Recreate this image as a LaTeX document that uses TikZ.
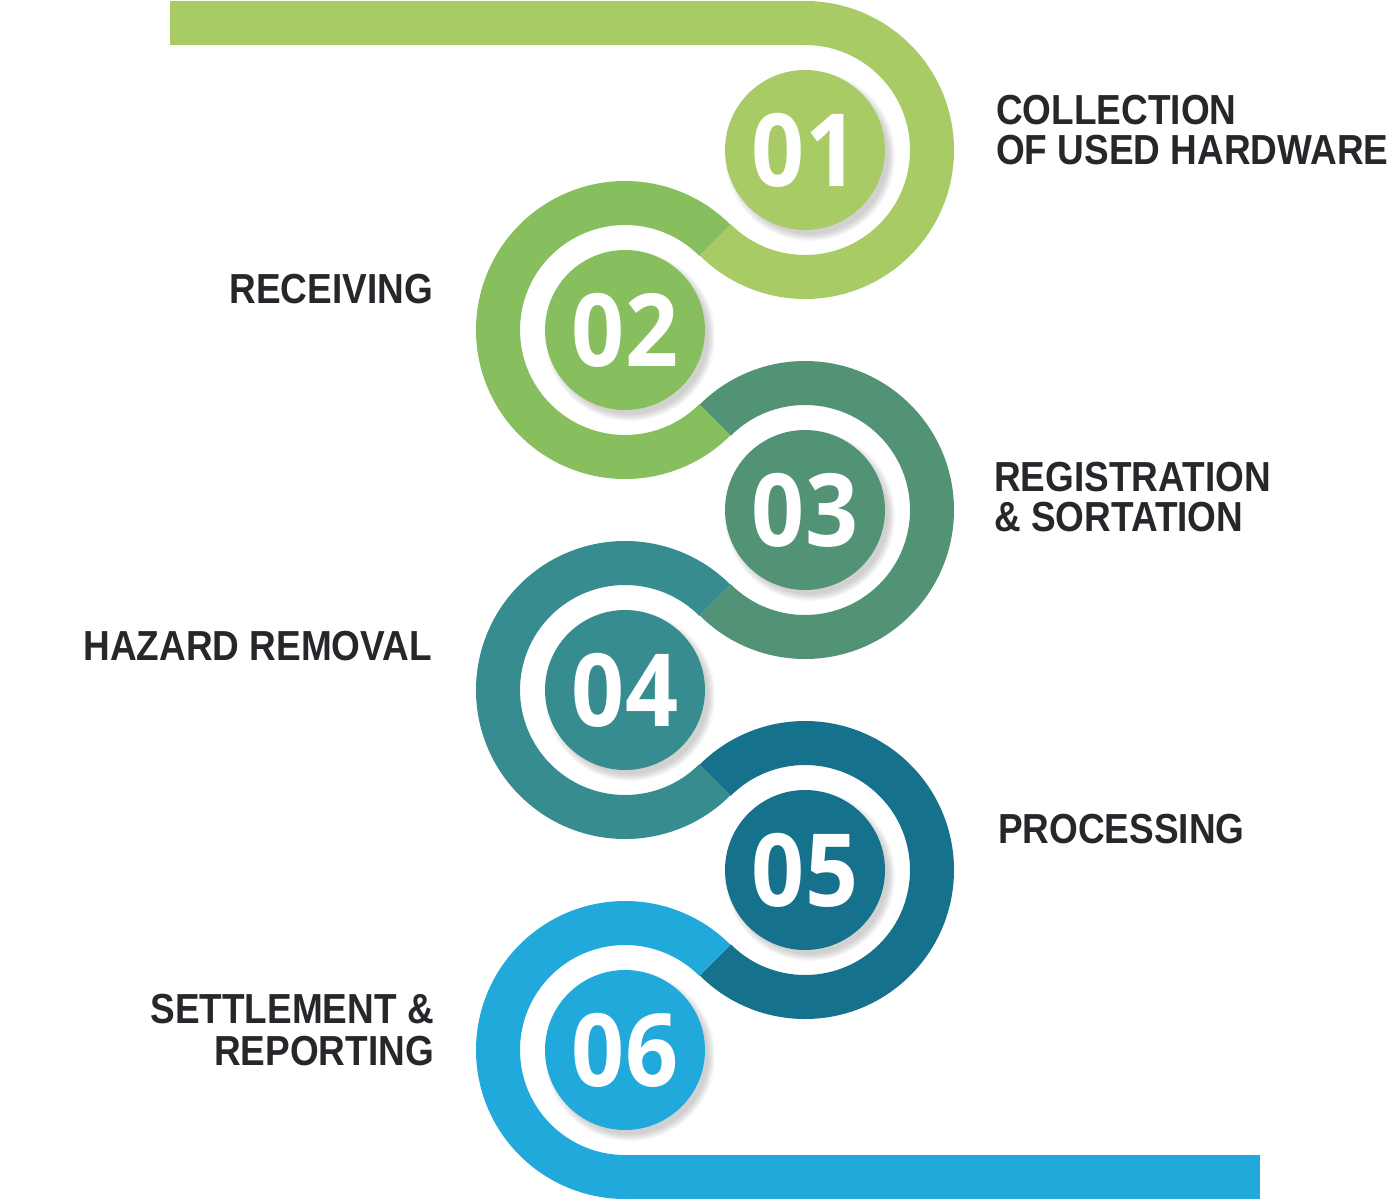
\documentclass[tikz,border=0pt]{standalone}
\usepackage{fontspec}
\newfontfamily\labfont{Liberation Sans}[FakeStretch=0.88]
\newfontfamily\numfont{Open Sans}[FakeStretch=0.92]
\usetikzlibrary{calc}
\definecolor{cA}{HTML}{A9CB66}
\definecolor{cB}{HTML}{88BF5E}
\definecolor{cC}{HTML}{519374}
\definecolor{cD}{HTML}{378C90}
\definecolor{cE}{HTML}{16728C}
\definecolor{cF}{HTML}{22A9DC}
\definecolor{txt}{HTML}{25272A}
\newcommand\Ro{149}
\newcommand\Ri{105}
\newcommand\bandseg[4]{\fill[#4] ($(#1)+(#2:\Ro)$) arc[start angle=#2,end angle=#3,radius=\Ro] -- ($(#1)+(#3:\Ri)$) arc[start angle=#3,end angle=#2,radius=\Ri] -- cycle;}
\newcommand\softshadow[1]{\foreach \k in {1,...,10}{\fill[black,opacity=0.02] ($(#1)+(5,-6)$) circle ({86-\k*0.8});}}
\tikzset{
  stepdisc/.style={circle, minimum size=160, inner sep=0, text=white,
    font=\numfont\bfseries\fontsize{101}{110}\selectfont},
  lab/.style={inner sep=0, text=txt, font=\labfont\bfseries\fontsize{42}{50}\selectfont}
}
\begin{document}
\begin{tikzpicture}[x=1pt,y=1pt]
\useasboundingbox (0,0) rectangle (1391,-1199);
\coordinate (p1) at (805,-150);
\coordinate (p2) at (625,-330);
\coordinate (p3) at (805,-510);
\coordinate (p4) at (625,-690);
\coordinate (p5) at (805,-870);
\coordinate (p6) at (625,-1050);
% bands
\fill[cA] (170,-1) rectangle (805,-45);
\bandseg{p1}{90}{-135}{cA}
\bandseg{p2}{45}{315}{cB}
\bandseg{p3}{135}{-135}{cC}
\bandseg{p4}{45}{315}{cD}
\bandseg{p5}{135}{-135}{cE}
\bandseg{p6}{45}{270}{cF}
\fill[cF] (625,-1155) rectangle (1260,-1199);
% shadows
\softshadow{p1}
\softshadow{p2}
\softshadow{p3}
\softshadow{p4}
\softshadow{p5}
\softshadow{p6}
% discs
\node[stepdisc, fill=cA] (c1) at (p1) {01};
\node[stepdisc, fill=cB] (c2) at (p2) {02};
\node[stepdisc, fill=cC] (c3) at (p3) {03};
\node[stepdisc, fill=cD] (c4) at (p4) {04};
\node[stepdisc, fill=cE] (c5) at (p5) {05};
\node[stepdisc, fill=cF] (c6) at (p6) {06};
% labels
\node[lab, anchor=base west] (l1a) at (996,-124) {COLLECTION};
\node[lab, anchor=base west] (l1b) at (996,-164) {OF USED HARDWARE};
\node[lab, anchor=base east] (l2) at (433,-303) {RECEIVING};
\node[lab, anchor=base west] (l3a) at (994,-491) {REGISTRATION};
\node[lab, anchor=base west] (l3b) at (994,-531) {\& SORTATION};
\node[lab, anchor=base east] (l4) at (432,-660) {HAZARD REMOVAL};
\node[lab, anchor=base west] (l5) at (998,-843) {PROCESSING};
\node[lab, anchor=base east] (l6a) at (434,-1023) {SETTLEMENT \&};
\node[lab, anchor=base east] (l6b) at (434,-1065) {REPORTING};
\end{tikzpicture}
\end{document}
